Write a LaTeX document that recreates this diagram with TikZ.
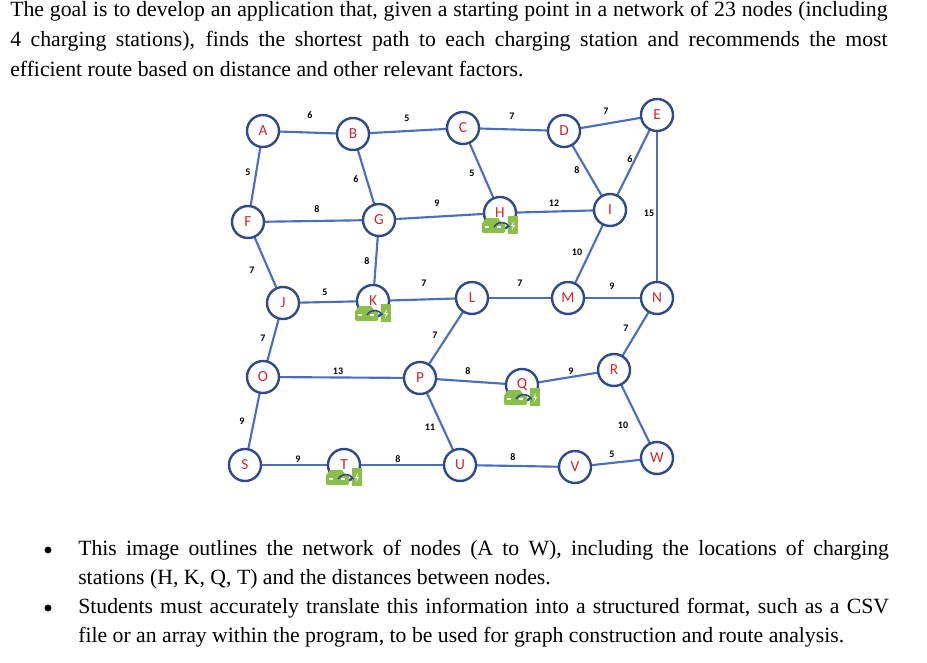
\documentclass[tikz,border=0pt]{standalone}
\usepackage{fontspec}
\setmainfont{Liberation Serif}
\newfontfamily\carl{Carlito}
\begin{document}
\begin{tikzpicture}[x=0.75pt,y=-0.75pt,
  nd/.style={circle,draw=nodeblue,line width=1.8pt,fill=white,minimum size=24pt,inner sep=0pt,text=nodered,font=\carl\fontsize{11.5}{12}\selectfont},
  ed/.style={draw=edgeblue,line width=1.6pt},
  lb/.style={font=\carl\bfseries\fontsize{7.5}{8}\selectfont,inner sep=0pt},
  txt/.style={anchor=base west,inner sep=0pt,text width=658pt,align=justify,font=\fontsize{16.3}{22.3}\selectfont}]
\definecolor{nodeblue}{HTML}{2F4A8A}
\definecolor{edgeblue}{HTML}{4A6FC0}
\definecolor{nodered}{HTML}{D02828}
\definecolor{chg}{HTML}{8CBF4A}
\useasboundingbox (0,0) rectangle (927,663);
\tikzset{charger/.pic={
  \fill[chg,rounded corners=1pt] (-18,9) rectangle (5,20);
  \fill[chg] (-14,5) -- (-2,5) -- (1,9) -- (-17,9) -- cycle;
  \fill[white] (-15,13) rectangle (-11,15);
  \fill[white] (-3,13) rectangle (1,15);
  \fill[chg] (8,3) rectangle (18,21);
  \fill[white] (14,8) -- (11,13) -- (13,13) -- (12,17) -- (15,12) -- (13,12) -- cycle;
  \draw[nodeblue,line width=1.2pt] (-6,14) arc (-150:-30:9);
}}
\coordinate (A) at (263,131); \coordinate (B) at (353,134); \coordinate (C) at (463,128);
\coordinate (D) at (564,131); \coordinate (E) at (657,115); \coordinate (F) at (248,222);
\coordinate (G) at (379,220); \coordinate (H) at (500,213); \coordinate (I) at (610,210);
\coordinate (J) at (283,303); \coordinate (K) at (373,301); \coordinate (L) at (472,298);
\coordinate (M) at (568,298); \coordinate (N) at (657,298); \coordinate (O) at (263,377);
\coordinate (P) at (420,378); \coordinate (Q) at (522,385); \coordinate (R) at (614,370);
\coordinate (S) at (245,465); \coordinate (T) at (344,465); \coordinate (U) at (460,465);
\coordinate (V) at (575,467); \coordinate (W) at (657,458);
\foreach \a/\b in {A/B,B/C,C/D,D/E,A/F,B/G,C/H,D/I,E/I,E/N,F/G,G/H,H/I,I/M,F/J,G/K,J/K,K/L,L/M,M/N,J/O,L/P,N/R,O/P,P/Q,Q/R,O/S,P/U,R/W,S/T,T/U,U/V,V/W}
  \draw[ed] (\a) -- (\b);
\foreach \n in {A,B,C,D,E,F,G,H,I,J,K,L,M,N,O,P,Q,R,S,T,U,V,W}
  \node[nd] (n\n) at (\n) {\n};
\foreach \n in {H,K,Q,T} \pic at (\n) {charger};
\foreach \p/\t in {{310,115}/6,{407,118}/5,{512,116}/7,{606,111}/7,{248,172}/5,{356,179}/6,{472,173}/5,{577,170}/8,{630,159}/6,{649,213}/15,{317,209}/8,{437,203}/9,{554,203}/12,{577,252}/10,{252,270}/7,{367,261}/8,{325,292}/5,{424,283}/7,{520,283}/7,{612,286}/9,{263,338}/7,{435,335}/7,{626,328}/7,{338,371}/13,{468,371}/8,{571,371}/9,{242,421}/9,{430,427}/11,{623,425}/10,{298,459}/9,{398,459}/8,{513,457}/8,{612,454}/5}
  \node[lb] at (\p) {\t};
\node[txt] (t1) at (10,17) {The goal is to develop an application that, given a starting point in a network of 23 nodes (including\linebreak 4 charging stations), finds the shortest path to each charging station and recommends the most\linebreak efficient route based on distance and other relevant factors.};
\node[txt,text width=608pt] (t2) at (78,555) {This image outlines the network of nodes (A to W), including the locations of charging\linebreak stations (H, K, Q, T) and the distances between nodes.};
\node[txt,text width=608pt] (t3) at (78,613) {Students must accurately translate this information into a structured format, such as a CSV\linebreak file or an array within the program, to be used for graph construction and route analysis.};
\fill (48,550) circle (2.6pt); \fill (48,608) circle (2.6pt);
\end{tikzpicture}
\end{document}
